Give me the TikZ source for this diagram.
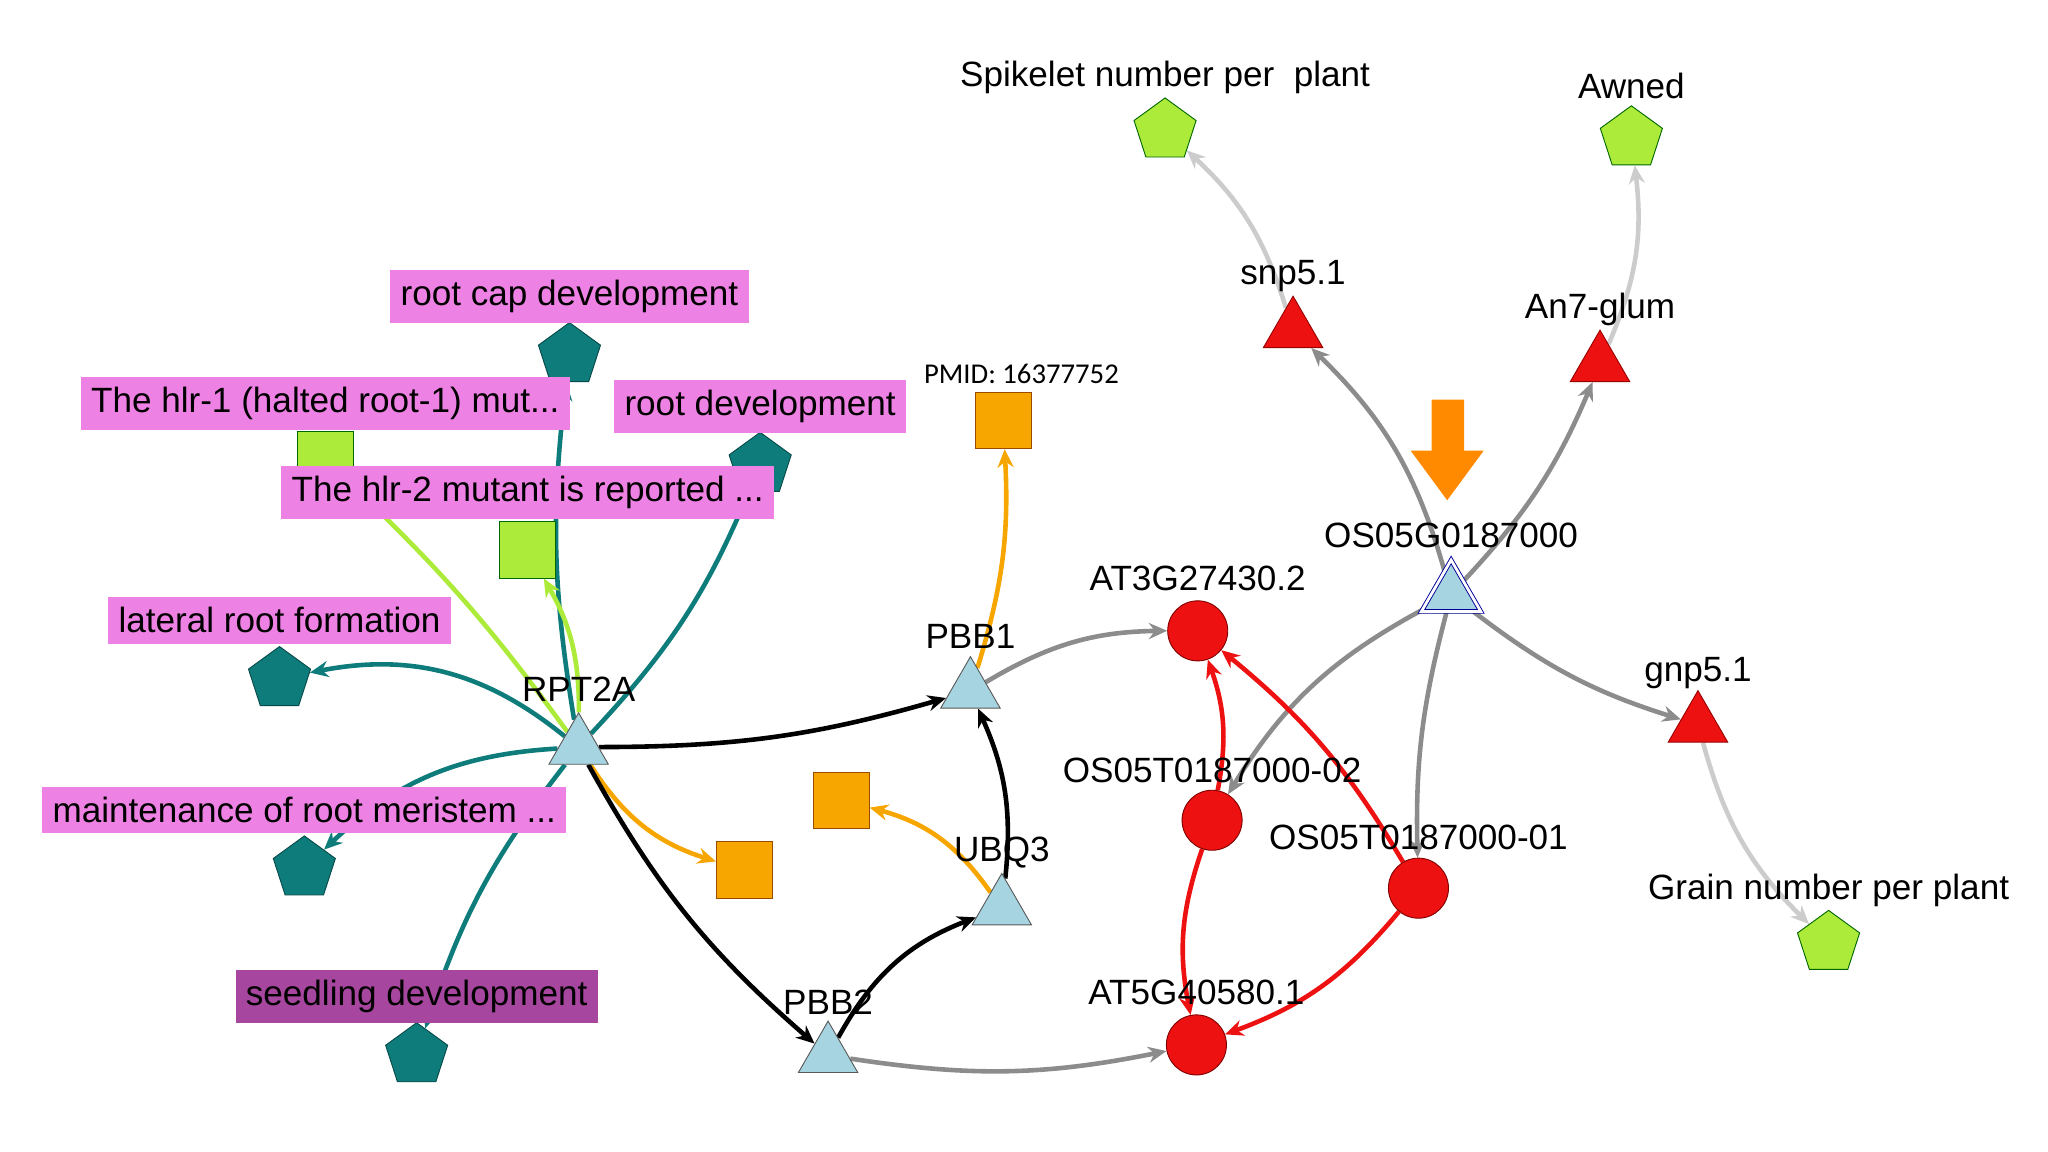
\documentclass[tikz,border=0pt]{standalone}
\usepackage{fontspec}
\setmainfont{Liberation Sans}
\usetikzlibrary{shapes.geometric,backgrounds,arrows.meta}
\definecolor{tri}{HTML}{A6D4E0}
\definecolor{teal}{HTML}{0E7C7B}
\definecolor{lime}{HTML}{ADEB3A}
\definecolor{orng}{HTML}{F7A600}
\definecolor{pink}{HTML}{EE82E4}
\definecolor{purp}{HTML}{A6469E}
\definecolor{redn}{HTML}{EE1111}
\definecolor{edgegray}{HTML}{8C8C8C}
\begin{document}
\begin{tikzpicture}[x=0.02cm,y=-0.02cm,
  txt/.style={font=\fontsize{15.3}{17}\selectfont,inner sep=1pt},
  tag/.style={txt,fill=pink,inner sep=4.5pt},
  gene/.style={regular polygon,regular polygon sides=3,minimum size=1.05cm,inner sep=0pt,fill=tri,draw=gray!70!black},
  snp/.style={gene,fill=redn,draw=red!60!black},
  circ/.style={circle,minimum size=0.92cm,inner sep=0pt,fill=redn,draw=red!50!black},
  pent/.style={regular polygon,regular polygon sides=5,minimum size=1.0cm,inner sep=0pt,fill=teal,draw=teal!60!black},
  trait/.style={pent,fill=lime,draw=green!40!black},
  osq/.style={rectangle,minimum size=0.86cm,inner sep=0pt,fill=orng,draw=orange!60!black},
  gsq/.style={osq,fill=lime,draw=green!40!black},
  e/.style={line width=2pt,-{Stealth[length=8pt,width=7pt]}},
  ge/.style={e,edgegray},
  le/.style={e,black!20},
  te/.style={e,teal},
  re/.style={e,redn}]
\useasboundingbox (0,0) rectangle (1568,882);
% square hidden behind labels
\node[gsq] (hlr1) at (249,352) {};
% genes
\node[gene] (rpt) at (443,572) {};
\node[txt] at (443,528) {RPT2A};
\node[gene] (pbb1) at (743,529) {};
\node[txt] at (743,487) {PBB1};
\node[gene] (pbb2) at (634,808) {};
\node[txt] at (634,767) {PBB2};
\node[gene] (ubq) at (767,695) {};
\node[txt] at (767,653) {UBQ3};
\node[gene,draw=blue!60!black,double,double distance=1.2pt] (os) at (1111,455) {};
\node[txt] at (1111,410) {OS05G0187000};
\node[snp] (snp) at (990,253) {};
\node[txt] at (990,211) {snp5.1};
\node[snp] (an7) at (1225,279) {};
\node[txt] at (1225,237) {An7-glum};
\node[snp] (gnp) at (1300,555) {};
\node[txt] at (1300,515) {gnp5.1};
% traits
\node[trait] (spk) at (892,100) {};
\node[txt] at (892,59) {Spikelet number per~~plant};
\node[trait] (awn) at (1249,106) {};
\node[txt] at (1249,66) {Awned};
\node[trait] (grn) at (1400,722) {};
\node[txt] at (1400,682) {Grain number per plant};
% red circles
\node[circ] (at3) at (917,483) {};
\node[circ] (t02) at (928,628) {};
\node[circ] (t01) at (1086,680) {};
\node[circ] (at5) at (916,800) {};
\node[txt] at (917,443) {AT3G27430.2};
\node[txt] at (928,590) {OS05T0187000-02};
\node[txt] at (1086,641) {OS05T0187000-01};
\node[txt] at (916,760) {AT5G40580.1};
% orange squares
\node[osq] (pmid) at (768,322) {};
\node[inner sep=1pt,font=\fontspec{Carlito}\fontsize{12.5}{14}\selectfont] at (782,286) {PMID: 16377752};
\node[osq] (sq1) at (570,666) {};
\node[osq] (sq2) at (644,613) {};
% go terms
\node[pent] (cap) at (436,272) {};
\node[pent] (rdev) at (582,356) {};
\node[pent] (lat) at (214,520) {};
\node[pent] (mer) at (233,665) {};
\node[pent] (sdl) at (319,808) {};
\node[gsq] (hlr2) at (404,421) {};
\node[tag] at (436,227) {root cap development};
\node[tag] at (249,309) {The hlr-1 (halted root-1) mut...};
\node[tag] at (582,311) {root development};
\node[tag] at (404,377) {The hlr-2 mutant is reported ...};
\node[tag] at (214,475) {lateral root formation};
\node[tag] at (233,620) {maintenance of root meristem ...};
\node[tag,fill=purp] at (319,763) {seedling development};
% orange pointer
\fill[orange!85!red!80!yellow] (1096,306) -- (1121,306) -- (1121,345) -- (1136,345) -- (1108,383) -- (1080,345) -- (1096,345) -- cycle;
\begin{pgfonlayer}{background}
\draw[te] (rpt) to[bend left=8] (cap);
\draw[te] (rpt) to[bend right=10] (rdev);
\draw[te] (rpt) to[bend right=25] (lat);
\draw[te] (rpt) to[bend right=20] (mer);
\draw[te] (rpt) to[bend right=10] (sdl);
\draw[e,lime] (rpt) to[bend right=5] (hlr1);
\draw[e,lime] (rpt) to[bend right=15] (hlr2);
\draw[e,orng] (rpt) to[bend right=20] (sq1);
\draw[e,black] (rpt) to[bend right=8] (pbb1);
\draw[e,black] (rpt) to[bend right=10] (pbb2);
\draw[e,orng] (pbb1) to[bend right=10] (pmid);
\draw[ge] (pbb1) to[bend left=15] (at3);
\draw[e,black] (ubq) to[bend right=15] (pbb1);
\draw[e,black] (pbb2) to[bend left=20] (ubq);
\draw[e,orng] (ubq) to[bend right=20] (sq2);
\draw[ge] (pbb2) to[bend right=10] (at5);
\draw[ge] (os) to[bend right=15] (snp);
\draw[ge] (os) to[bend right=10] (an7);
\draw[ge] (os) to[bend right=10] (gnp);
\draw[ge] (os) to[bend right=15] (t02);
\draw[ge] (os) to[bend right=8] (t01);
\draw[le] (snp) to[bend right=15] (spk);
\draw[le] (an7) to[bend right=15] (awn);
\draw[le] (gnp) to[bend right=15] (grn);
\draw[re] (t02) to[bend right=15] (at3);
\draw[re] (t01) to[bend right=10] (at3);
\draw[re] (t02) to[bend right=15] (at5);
\draw[re] (t01) to[bend left=15] (at5);
\end{pgfonlayer}
\end{tikzpicture}
\end{document}
